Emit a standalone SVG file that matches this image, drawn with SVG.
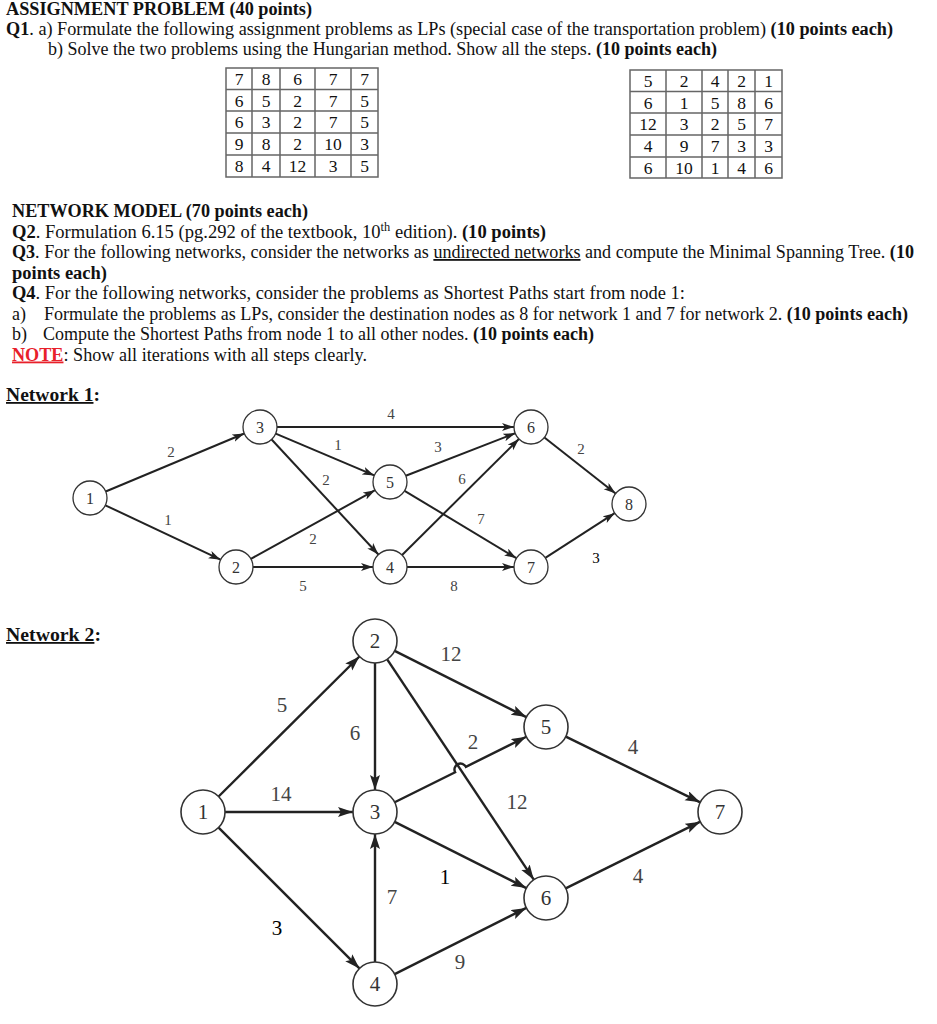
<svg xmlns="http://www.w3.org/2000/svg" width="937" height="1024" viewBox="0 0 937 1024">
<style>
.t{font-family:"Liberation Serif","Times New Roman",serif;font-size:18px;fill:#111}
.b{font-weight:bold}
.cell{font-family:"Liberation Serif","Times New Roman",serif;font-size:17.5px;fill:#111;text-anchor:middle}
.grid{stroke:#666;stroke-width:1.5;fill:none}
.n1 circle{fill:#fff;stroke:#333;stroke-width:1.3}
.n1 text{font-family:"Liberation Serif","Times New Roman",serif;font-size:16px;fill:#333;text-anchor:middle}
.n2 circle{fill:#fff;stroke:#333;stroke-width:1.6}
.n2 text{font-family:"Liberation Serif","Times New Roman",serif;font-size:21px;fill:#333;text-anchor:middle}
.e1{stroke:#222;stroke-width:2;fill:none;marker-end:url(#a1)}
.e2{stroke:#222;stroke-width:2.4;fill:none;marker-end:url(#a2)}
.l1{font-family:"Liberation Serif","Times New Roman",serif;font-size:15px;fill:#444;text-anchor:middle}
.l2{font-family:"Liberation Serif","Times New Roman",serif;font-size:21px;fill:#444;text-anchor:middle}
.lk{fill:#000}
</style>
<defs>
<marker id="a1" markerUnits="userSpaceOnUse" markerWidth="13" markerHeight="9" refX="12" refY="4" orient="auto"><path d="M0,0 L12,4 L0,8 L3,4 z" fill="#222"/></marker>
<marker id="a2" markerUnits="userSpaceOnUse" markerWidth="16" markerHeight="11" refX="15" refY="5" orient="auto"><path d="M0,0 L15,5 L0,10 L3,5 z" fill="#222"/></marker>
</defs>
<rect width="937" height="1024" fill="#fff"/>

<g id="text">
<text class="t b" x="6" y="15" textLength="306" lengthAdjust="spacingAndGlyphs">ASSIGNMENT PROBLEM (40 points)</text>
<text class="t" x="6" y="34.5" textLength="887" lengthAdjust="spacingAndGlyphs"><tspan class="b">Q1</tspan>. a) Formulate the following assignment problems as LPs (special case of the transportation problem) <tspan class="b">(10 points each)</tspan></text>
<text class="t" x="48" y="55" textLength="669" lengthAdjust="spacingAndGlyphs">b) Solve the two problems using the Hungarian method. Show all the steps. <tspan class="b">(10 points each)</tspan></text>
<text class="t b" x="12" y="217" textLength="296" lengthAdjust="spacingAndGlyphs">NETWORK MODEL (70 points each)</text>
<text class="t" x="12" y="237.5" textLength="534" lengthAdjust="spacingAndGlyphs"><tspan class="b">Q2</tspan>. Formulation 6.15 (pg.292 of the textbook, 10<tspan font-size="12" dy="-7">th</tspan><tspan dy="7"> edition). </tspan><tspan class="b">(10 points)</tspan></text>
<text class="t" x="12" y="258" textLength="902" lengthAdjust="spacingAndGlyphs"><tspan class="b">Q3</tspan>. For the following networks, consider the networks as <tspan text-decoration="underline">undirected networks</tspan> and compute the Minimal Spanning Tree. <tspan class="b">(10</tspan></text>
<text class="t b" x="12" y="278.5" textLength="95" lengthAdjust="spacingAndGlyphs">points each)</text>
<text class="t" x="12" y="299" textLength="673" lengthAdjust="spacingAndGlyphs"><tspan class="b">Q4</tspan>. For the following networks, consider the problems as Shortest Paths start from node 1:</text>
<text class="t" x="12" y="319.5">a)</text>
<text class="t" x="44" y="319.5" textLength="864" lengthAdjust="spacingAndGlyphs">Formulate the problems as LPs, consider the destination nodes as 8 for network 1 and 7 for network 2. <tspan class="b">(10 points each)</tspan></text>
<text class="t" x="12" y="340">b)</text>
<text class="t" x="43" y="340" textLength="551" lengthAdjust="spacingAndGlyphs">Compute the Shortest Paths from node 1 to all other nodes. <tspan class="b">(10 points each)</tspan></text>
<text class="t" x="12" y="360.5" textLength="355" lengthAdjust="spacingAndGlyphs"><tspan class="b" fill="#e8202a" text-decoration="underline">NOTE</tspan>: Show all iterations with all steps clearly.</text>
<text class="t b" x="6" y="401" textLength="94" lengthAdjust="spacingAndGlyphs"><tspan text-decoration="underline">Network 1</tspan>:</text>
<text class="t b" x="6" y="641" textLength="95" lengthAdjust="spacingAndGlyphs"><tspan text-decoration="underline">Network 2</tspan>:</text>
</g>

<g id="table1">
<path class="grid" d="M226,68 H378 V177 H226 Z M252,68 V177 M280,68 V177 M315,68 V177 M351,68 V177 M226,89.5 H378 M226,111 H378 M226,133 H378 M226,155 H378"/>
<text class="cell" x="239" y="85">7</text><text class="cell" x="266" y="85">8</text><text class="cell" x="297.5" y="85">6</text><text class="cell" x="333" y="85">7</text><text class="cell" x="364.5" y="85">7</text>
<text class="cell" x="239" y="106.5">6</text><text class="cell" x="266" y="106.5">5</text><text class="cell" x="297.5" y="106.5">2</text><text class="cell" x="333" y="106.5">7</text><text class="cell" x="364.5" y="106.5">5</text>
<text class="cell" x="239" y="128">6</text><text class="cell" x="266" y="128">3</text><text class="cell" x="297.5" y="128">2</text><text class="cell" x="333" y="128">7</text><text class="cell" x="364.5" y="128">5</text>
<text class="cell" x="239" y="150">9</text><text class="cell" x="266" y="150">8</text><text class="cell" x="297.5" y="150">2</text><text class="cell" x="333" y="150">10</text><text class="cell" x="364.5" y="150">3</text>
<text class="cell" x="239" y="172">8</text><text class="cell" x="266" y="172">4</text><text class="cell" x="297.5" y="172">12</text><text class="cell" x="333" y="172">3</text><text class="cell" x="364.5" y="172">5</text>
</g>

<g id="table2">
<path class="grid" d="M630,70 H782 V178 H630 Z M666,70 V178 M702,70 V178 M728,70 V178 M755,70 V178 M630,91.5 H782 M630,113 H782 M630,135 H782 M630,157 H782"/>
<text class="cell" x="648" y="87">5</text><text class="cell" x="684" y="87">2</text><text class="cell" x="715" y="87">4</text><text class="cell" x="741.5" y="87">2</text><text class="cell" x="768.5" y="87">1</text>
<text class="cell" x="648" y="108.5">6</text><text class="cell" x="684" y="108.5">1</text><text class="cell" x="715" y="108.5">5</text><text class="cell" x="741.5" y="108.5">8</text><text class="cell" x="768.5" y="108.5">6</text>
<text class="cell" x="648" y="130">12</text><text class="cell" x="684" y="130">3</text><text class="cell" x="715" y="130">2</text><text class="cell" x="741.5" y="130">5</text><text class="cell" x="768.5" y="130">7</text>
<text class="cell" x="648" y="152">4</text><text class="cell" x="684" y="152">9</text><text class="cell" x="715" y="152">7</text><text class="cell" x="741.5" y="152">3</text><text class="cell" x="768.5" y="152">3</text>
<text class="cell" x="648" y="173.5">6</text><text class="cell" x="684" y="173.5">10</text><text class="cell" x="715" y="173.5">1</text><text class="cell" x="741.5" y="173.5">4</text><text class="cell" x="768.5" y="173.5">6</text>
</g>

<g id="net1-edges">
<line class="e1" x1="105.7" y1="491.5" x2="244.3" y2="433.5"/>
<line class="e1" x1="105.4" y1="505.3" x2="220.6" y2="559.7"/>
<line class="e1" x1="277" y1="427" x2="514" y2="427"/>
<line class="e1" x1="275.7" y1="433.6" x2="374.3" y2="475.4"/>
<line class="e1" x1="271.6" y1="439.5" x2="378.4" y2="554.5"/>
<line class="e1" x1="250.9" y1="558.8" x2="375.1" y2="490.2"/>
<line class="e1" x1="253" y1="567" x2="373" y2="567"/>
<line class="e1" x1="405.8" y1="475.8" x2="515.2" y2="433.2"/>
<line class="e1" x1="404.6" y1="490.8" x2="516.4" y2="558.2"/>
<line class="e1" x1="402.1" y1="555" x2="518.9" y2="439"/>
<line class="e1" x1="407" y1="567" x2="514" y2="567"/>
<line class="e1" x1="544.4" y1="437.5" x2="615.6" y2="493.5"/>
<line class="e1" x1="545.3" y1="557.8" x2="614.7" y2="513.2"/>
</g>
<g id="net1-labels">
<text class="l1" x="171" y="457">2</text>
<text class="l1" x="168" y="525">1</text>
<text class="l1" x="391" y="419">4</text>
<text class="l1" x="338" y="450">1</text>
<text class="l1" x="326" y="485">2</text>
<text class="l1" x="438" y="452">3</text>
<text class="l1" x="462" y="484">6</text>
<text class="l1" x="481" y="524">7</text>
<text class="l1" x="313" y="544">2</text>
<text class="l1" x="303" y="591">5</text>
<text class="l1" x="454" y="591">8</text>
<text class="l1" x="581" y="454">2</text>
<text class="l1 lk" x="596" y="563" font-size="17">3</text>
</g>
<g id="n1-1" class="n1"><circle cx="90" cy="498" r="17"/><text x="90" y="503.5">1</text></g>
<g id="n1-2" class="n1"><circle cx="236" cy="567" r="17"/><text x="236" y="572.5">2</text></g>
<g id="n1-3" class="n1"><circle cx="260" cy="427" r="17"/><text x="260" y="432.5">3</text></g>
<g id="n1-4" class="n1"><circle cx="390" cy="567" r="17"/><text x="390" y="572.5">4</text></g>
<g id="n1-5" class="n1"><circle cx="390" cy="482" r="17"/><text x="390" y="487.5">5</text></g>
<g id="n1-6" class="n1"><circle cx="531" cy="427" r="17"/><text x="531" y="432.5">6</text></g>
<g id="n1-7" class="n1"><circle cx="531" cy="567" r="17"/><text x="531" y="572.5">7</text></g>
<g id="n1-8" class="n1"><circle cx="629" cy="504" r="17"/><text x="629" y="509.5">8</text></g>

<g id="net2-edges">
<line class="e2" x1="218.6" y1="796.5" x2="359.4" y2="656.5"/>
<line class="e2" x1="225" y1="812" x2="353" y2="812"/>
<line class="e2" x1="218.6" y1="827.6" x2="359.4" y2="968.4"/>
<line class="e2" x1="375" y1="663" x2="375" y2="790"/>
<line class="e2" x1="375" y1="962" x2="375" y2="834"/>
<line class="e2" x1="394.7" y1="650.9" x2="526.3" y2="717.1"/>
<line class="e2" x1="387.2" y1="659.3" x2="533.8" y2="879.7"/>
<path class="e2" d="M394.7,802.2 L455.1,772.2 A6,6 0 0 1 465.9,766.8 L526.3,736.8"/>
<line class="e2" x1="394.7" y1="821.9" x2="526.3" y2="888.1"/>
<line class="e2" x1="394.7" y1="974.1" x2="526.3" y2="907.9"/>
<line class="e2" x1="565.8" y1="736.7" x2="700.2" y2="802.3"/>
<line class="e2" x1="565.7" y1="888.3" x2="700.3" y2="821.7"/>
</g>
<g id="net2-labels">
<text class="l2" x="282" y="712">5</text>
<text class="l2" x="281" y="801">14</text>
<text class="l2 lk" x="277" y="935" font-size="22">3</text>
<text class="l2" x="355" y="740">6</text>
<text class="l2" x="451" y="661">12</text>
<text class="l2" x="517" y="809">12</text>
<text class="l2" x="473" y="749">2</text>
<text class="l2 lk" x="445" y="884" font-size="22">1</text>
<text class="l2" x="392" y="904">7</text>
<text class="l2" x="460" y="969">9</text>
<text class="l2" x="633" y="754">4</text>
<text class="l2" x="638" y="883">4</text>
</g>
<g id="n2-1" class="n2"><circle cx="203" cy="812" r="22"/><text x="203" y="819">1</text></g>
<g id="n2-2" class="n2"><circle cx="375" cy="641" r="22"/><text x="375" y="648">2</text></g>
<g id="n2-3" class="n2"><circle cx="375" cy="812" r="22"/><text x="375" y="819">3</text></g>
<g id="n2-4" class="n2"><circle cx="375" cy="984" r="22"/><text x="375" y="991">4</text></g>
<g id="n2-5" class="n2"><circle cx="546" cy="727" r="22"/><text x="546" y="734">5</text></g>
<g id="n2-6" class="n2"><circle cx="546" cy="898" r="22"/><text x="546" y="905">6</text></g>
<g id="n2-7" class="n2"><circle cx="720" cy="812" r="22"/><text x="720" y="819">7</text></g>
</svg>
